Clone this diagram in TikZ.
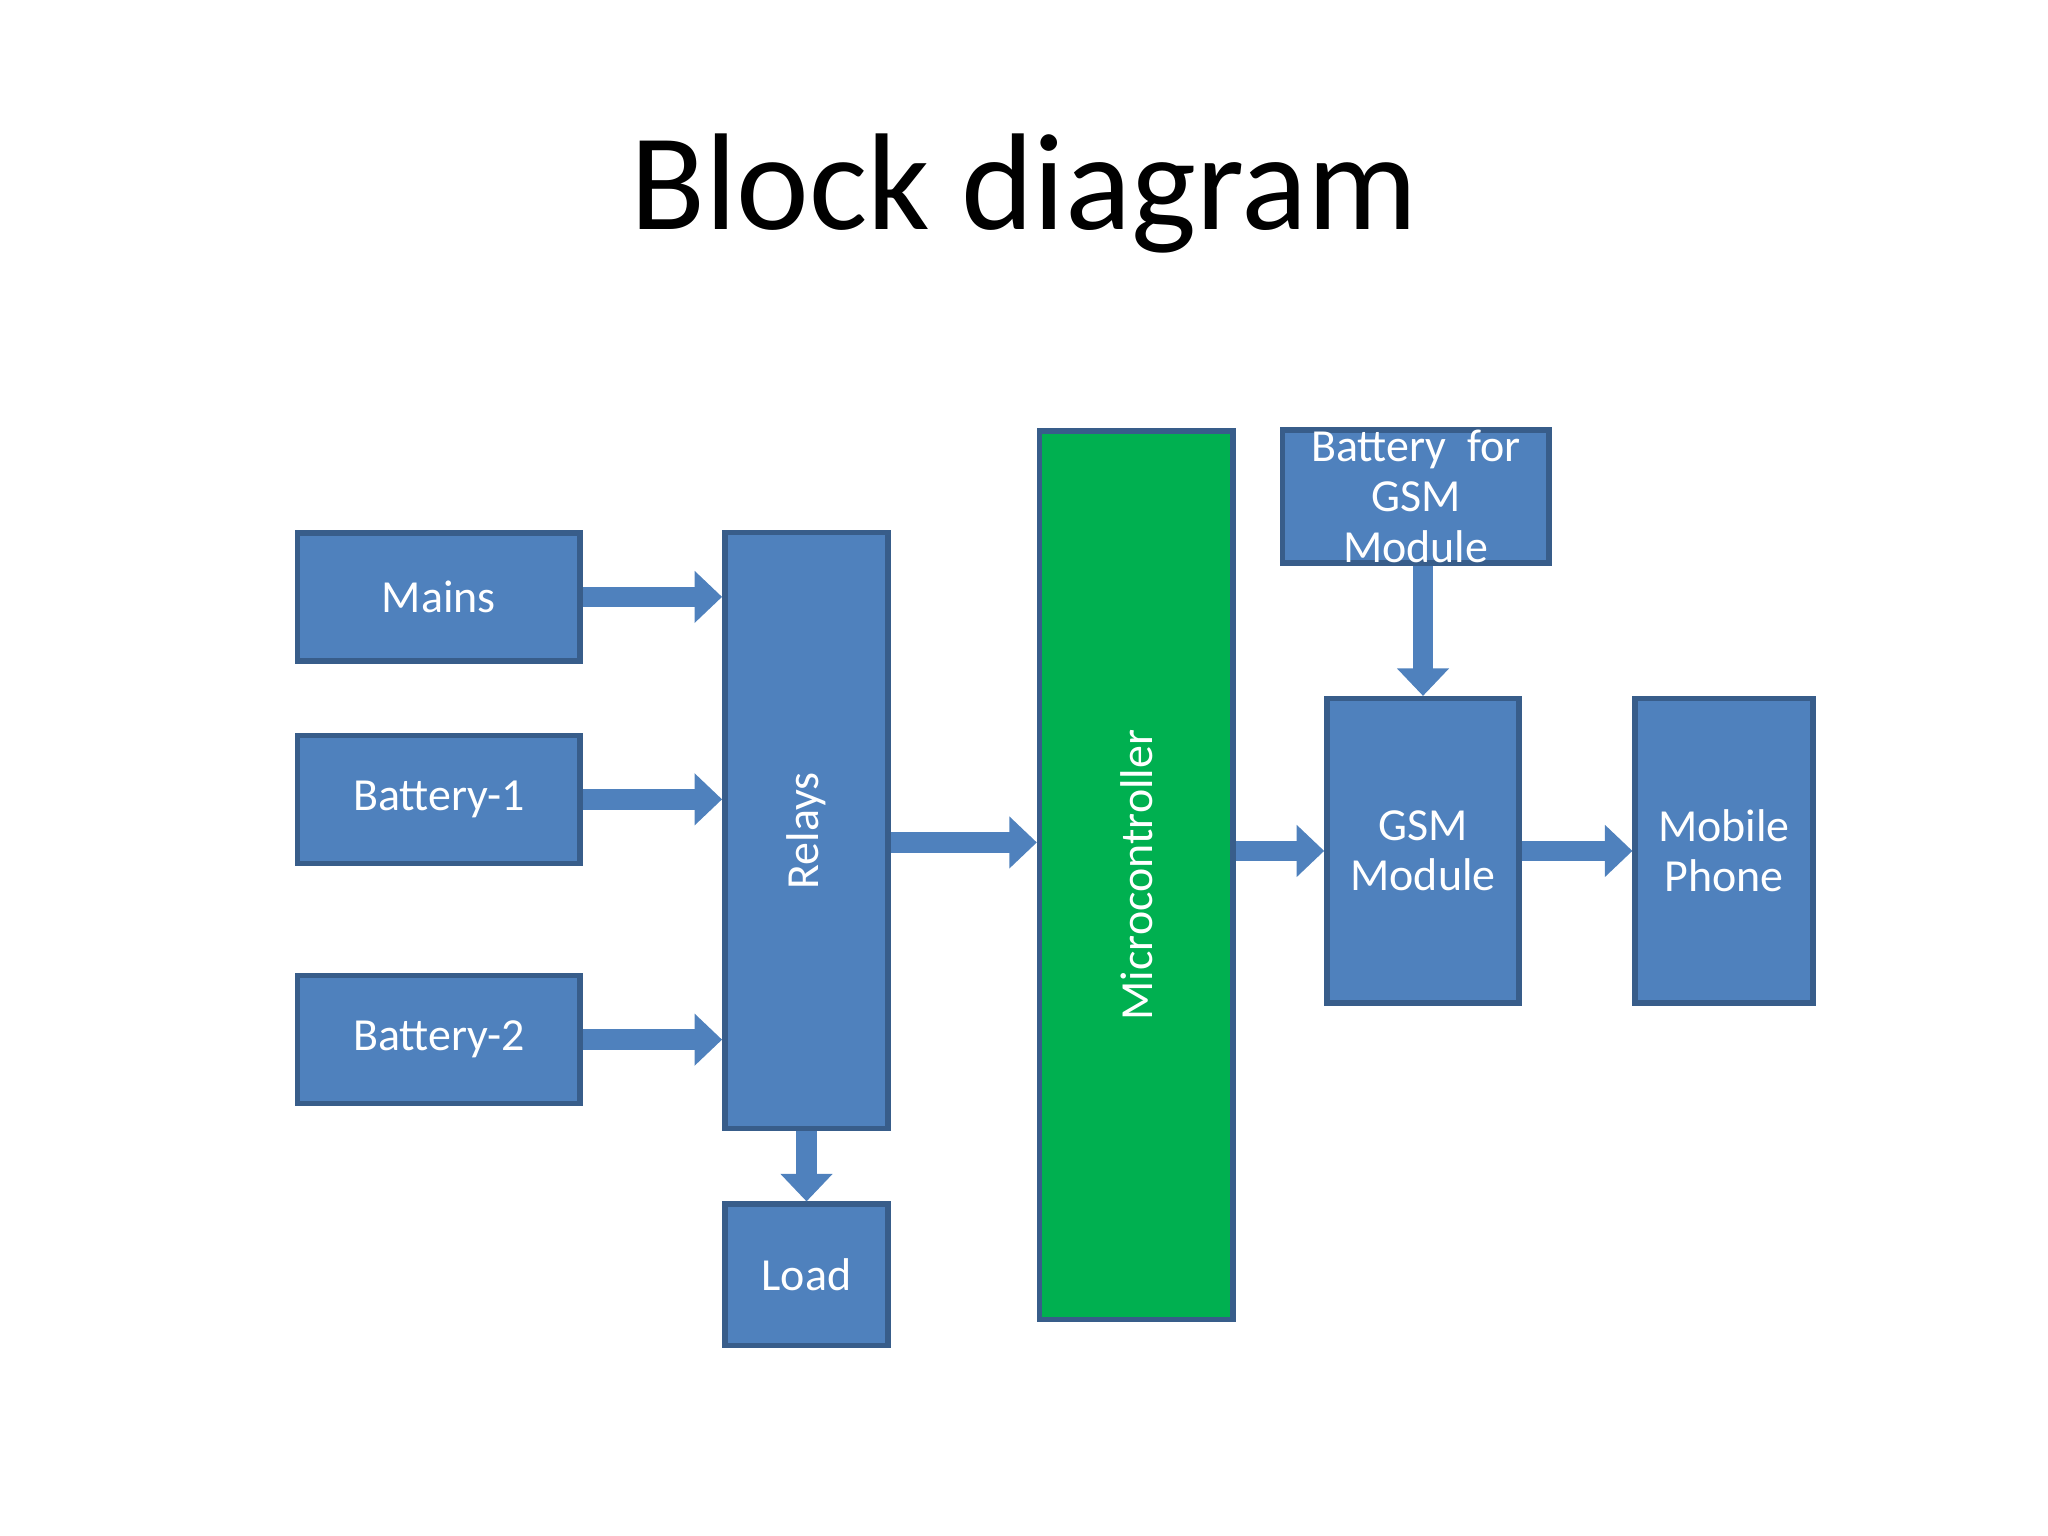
\documentclass[tikz,border=0pt]{standalone}
\usepackage{fontspec}
\setmainfont{Carlito}
\usetikzlibrary{arrows.meta}
\definecolor{boxblue}{RGB}{79,129,189}
\definecolor{edgeblue}{RGB}{56,93,138}
\definecolor{mcgreen}{RGB}{0,176,80}
\begin{document}
\begin{tikzpicture}[x=0.01cm,y=-0.01cm,
	block/.style={draw=edgeblue, line width=1.2pt, fill=boxblue, text=white, align=center,
		font=\fontsize{10}{11}\selectfont, inner sep=0pt},
	flow/.style={line width=4.5pt, boxblue, -{Triangle[width=11pt,length=6pt]}}]
	
	% Page area.
	\useasboundingbox (0,0) rectangle (1568,1176);
	
	% Title.
	\node (title) at (784,148) {\fontsize{30}{34}\selectfont Block diagram};
	
	% Draw blocks.
	\node[block, minimum width=2.16cm, minimum height=0.98cm] (mains) at (336,457) {Mains};
	\node[block, minimum width=2.16cm, minimum height=0.98cm] (bat1) at (336,612) {Battery-1};
	\node[block, minimum width=2.16cm, minimum height=0.98cm] (bat2) at (336,796) {Battery-2};
	\node[block, minimum width=1.25cm, minimum height=4.56cm] (relays) at (617.5,636) {};
	\node[text=white, rotate=90, font=\fontsize{10}{11}\selectfont] (relaystext) at (relays.center) {Relays};
	\node[block, minimum width=1.25cm, minimum height=1.08cm] (load) at (617.5,976) {Load};
	\node[block, fill=mcgreen, minimum width=1.48cm, minimum height=6.8cm] (micro) at (870,670) {};
	\node[text=white, rotate=90, font=\fontsize{10}{11}\selectfont] (microtext) at (micro.center) {Microcontroller};
	\node[block, minimum width=2.04cm, minimum height=0.98cm] (bgsm) at (1084,380) {Battery\ \ for\\GSM\\Module};
	\node[block, minimum width=1.47cm, minimum height=2.33cm] (gsm) at (1089.5,651.5) {GSM\\Module};
	\node[block, minimum width=1.36cm, minimum height=2.33cm] (phone) at (1320,651.5) {Mobile\\Phone};
	
	% Draw arrows.
	\draw[flow] (mains.east) -- (mains.east -| relays.west);
	\draw[flow] (bat1.east) -- (bat1.east -| relays.west);
	\draw[flow] (bat2.east) -- (bat2.east -| relays.west);
	\draw[flow] (relays.south) -- (load.north);
	\draw[flow] (relays.east) ++(0,9) coordinate (r1) -- (r1 -| micro.west);
	\draw[flow] (gsm.west -| micro.east) -- (gsm.west);
	\draw[flow] (gsm.north |- bgsm.south) -- (gsm.north);
	\draw[flow] (gsm.east) -- (gsm.east -| phone.west);
	
\end{tikzpicture}
\end{document}
